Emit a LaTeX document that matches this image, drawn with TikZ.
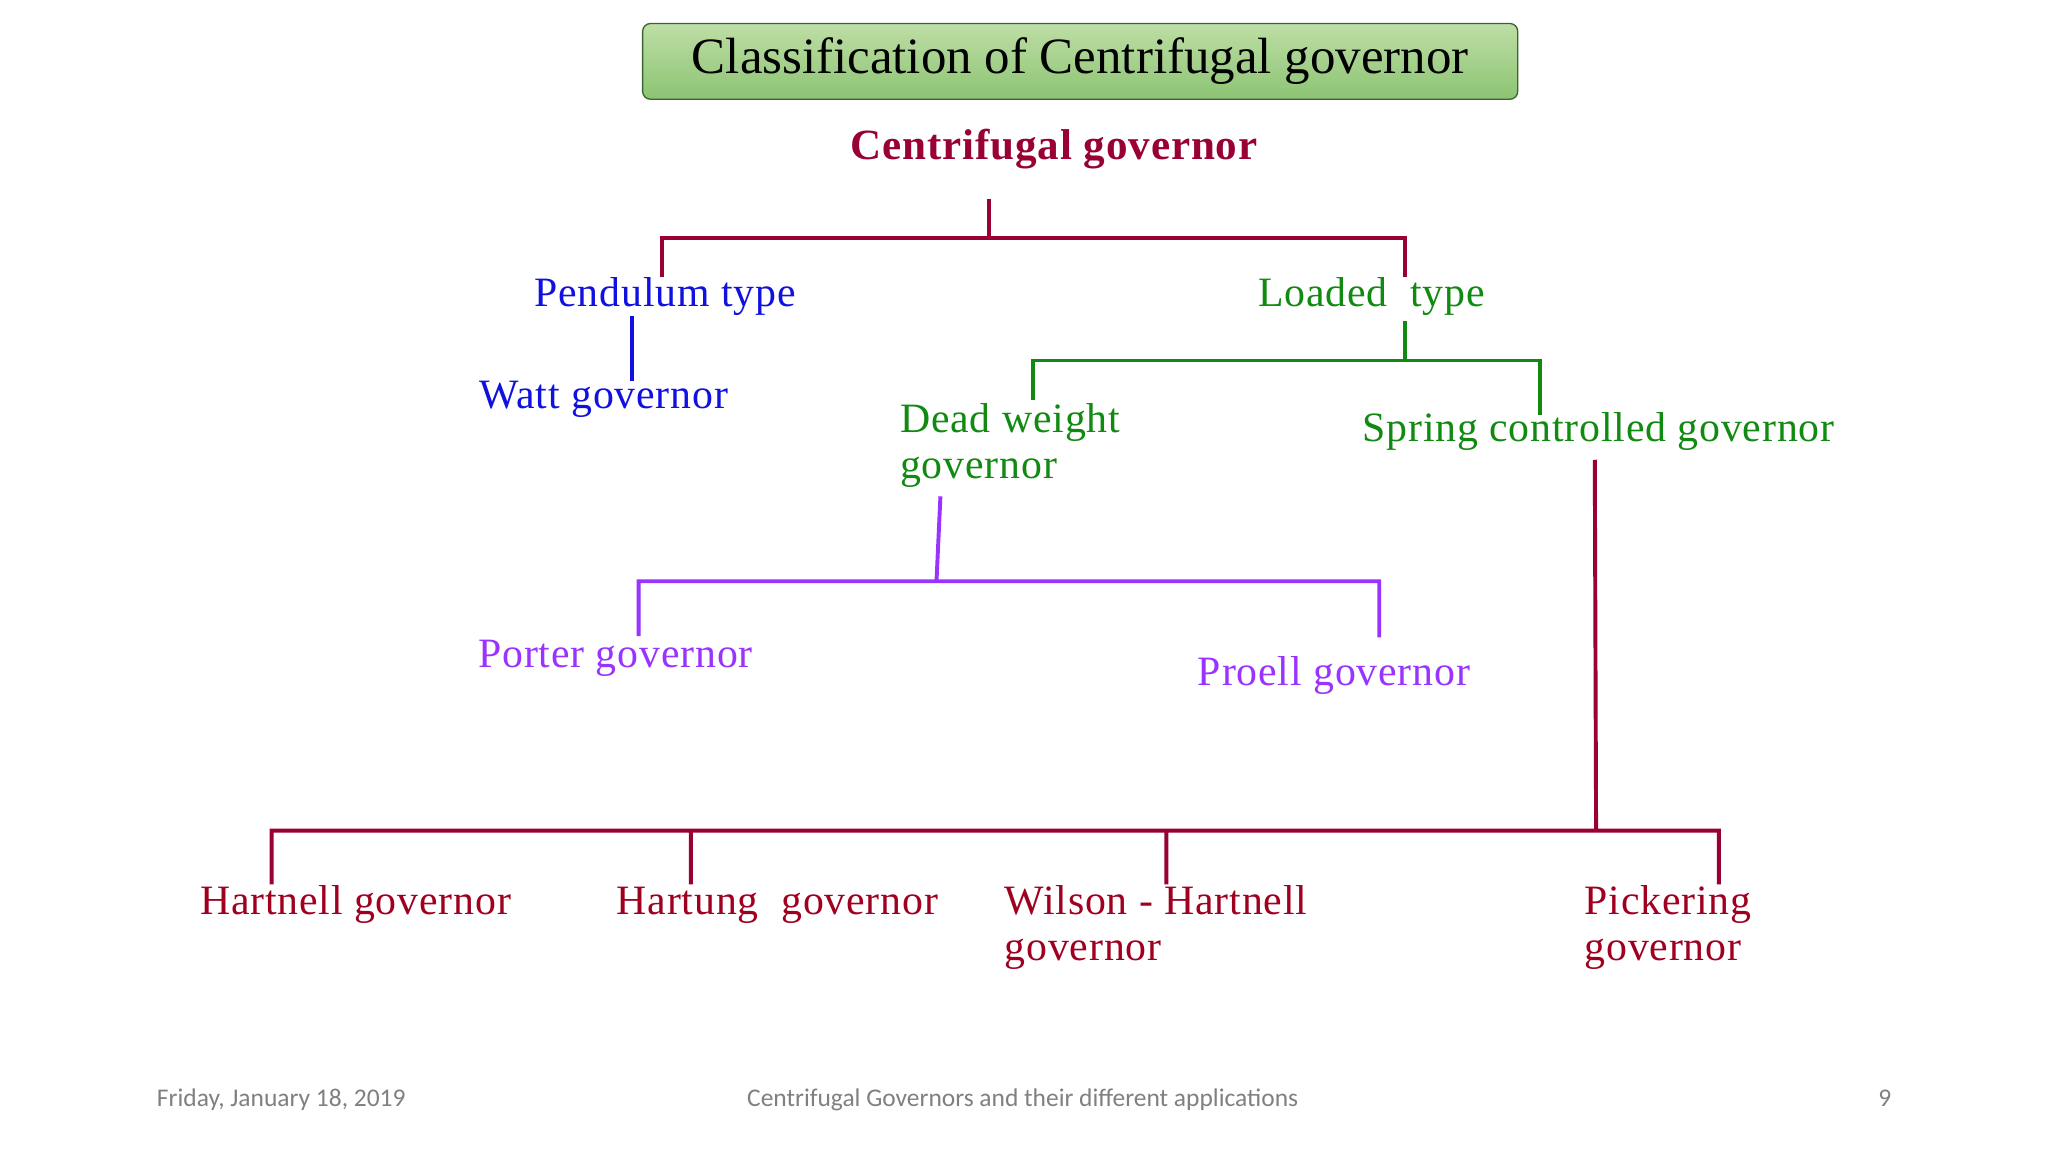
\documentclass[tikz,border=0pt]{standalone}
\usepackage{fontspec}
\setmainfont{Liberation Serif}
\newfontfamily\footfont{Carlito}
\definecolor{crim}{HTML}{990033}
\definecolor{blu}{HTML}{1010E0}
\definecolor{grn}{HTML}{108A10}
\definecolor{pur}{HTML}{9933FF}
\definecolor{dred}{HTML}{A00020}
\begin{document}
\begin{tikzpicture}[x=1pt,y=-1pt,
  lbl/.style={anchor=base west,inner sep=0pt,font=\fontsize{32}{35}\selectfont\addfontfeature{LetterSpace=2}},
  ln/.style={line width=3pt},
  foot/.style={anchor=base,inner sep=0pt,text=gray,font=\footfont\fontsize{19.5}{22}\selectfont}]
\useasboundingbox (0,0) rectangle (1568,882);
\fill[white] (0,0) rectangle (1568,882);
\node[draw={rgb,255:red,60;green,100;blue,50},line width=1pt,rounded corners=6pt,top color={rgb,255:red,190;green,222;blue,165},bottom color={rgb,255:red,140;green,196;blue,115},minimum width=670pt,minimum height=58pt,font=\fontsize{39}{44}\selectfont] (title) at (827,47) {Classification of Centrifugal governor};
\node[lbl,anchor=base,font=\bfseries\fontsize{33}{36}\selectfont\addfontfeature{LetterSpace=2},text=crim] (cg) at (807,122) {Centrifugal governor};
\node[lbl,text=blu] (pt) at (409,235) {Pendulum type};
\node[lbl,text=blu] (wg) at (367,313) {Watt governor};
\node[lbl,text=grn] (lt) at (963,235) {Loaded\ \ type};
\node[lbl,text=grn,align=left] (dw) at (689,366) {Dead weight\\governor};
\node[lbl,text=grn] (sc) at (1043,338) {Spring controlled governor};
\node[lbl,text=pur] (pg) at (366,511) {Porter governor};
\node[lbl,text=pur] (pr) at (917,525) {Proell governor};
\node[lbl,text=dred] (h1) at (153,700) {Hartnell governor};
\node[lbl,text=dred] (h2) at (472,700) {Hartung\ \ governor};
\node[lbl,text=dred,align=left] (h3) at (769,735) {Wilson - Hartnell\\governor};
\node[lbl,text=dred,align=left] (h4) at (1213,735) {Pickering\\governor};
\coordinate (a0) at (757,152);
\draw[ln,crim] (a0) -- (757,182) (507,212) -- (507,182) -- (1076,182) -- (1076,212);
\draw[ln,blu] (484,242) -- (484,292);
\draw[ln,grn] (1076,246) -- (1076,276) (791,306) -- (791,276) -- (1179,276) -- (1179,318);
\draw[ln,pur] (720,380) -- (717,445) (489,487) -- (489,445) -- (1056,445) -- (1056,488);
\draw[ln,crim] (1221,352) -- (1222,636) (208,677) -- (208,636) -- (1316,636) -- (1316,677)
  (529,636) -- (529,677) (893,636) -- (893,677);
\node[foot,anchor=base west] (f1) at (120,847) {Friday, January 18, 2019};
\node[foot] (f2) at (783,847) {Centrifugal Governors and their different applications};
\node[foot] (f3) at (1443,847) {9};
\end{tikzpicture}
\end{document}
